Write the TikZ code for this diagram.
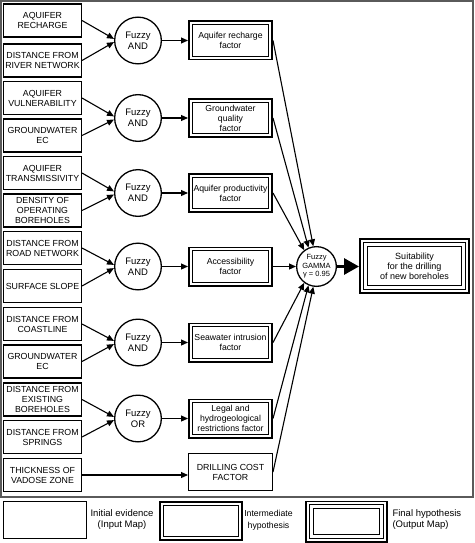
\documentclass[tikz,border=0pt]{standalone}
\usepackage{fontspec}
\setmainfont{Liberation Sans}
\usetikzlibrary{arrows.meta}
\definecolor{framegray}{RGB}{90,90,90}
\begin{document}
\begin{tikzpicture}[x=1pt,y=-1pt,
  inbox/.style={draw, line width=1.3pt, minimum width=77.7pt, minimum height=33.2pt, inner sep=1pt, align=center, font=\fontsize{8.8}{10}\selectfont},
  fuzzy/.style={draw, circle, line width=1.3pt, minimum size=46.7pt, inner sep=0pt, align=center, font=\fontsize{9.5}{11}\selectfont},
  gammanode/.style={draw, circle, line width=1.3pt, minimum size=39.7pt, inner sep=0pt, align=center, font=\fontsize{7.5}{8.5}\selectfont},
  midbox/.style={draw, line width=1.7pt, minimum width=83.3pt, minimum height=38.3pt, inner sep=1pt, align=center, font=\fontsize{8.7}{10}\selectfont,
    path picture={\draw[line width=1pt] ([shift={(3.2pt,-3.2pt)}]path picture bounding box.north west) rectangle ([shift={(-3.2pt,3.2pt)}]path picture bounding box.south east);}},
  outbox/.style={draw, line width=1.7pt, inner sep=1pt, align=center, font=\fontsize{9}{10}\selectfont,
    path picture={\draw[line width=1pt] ([shift={(3.6pt,-3.6pt)}]path picture bounding box.north west) rectangle ([shift={(-3.6pt,3.6pt)}]path picture bounding box.south east);
      \draw[line width=1.2pt] ([shift={(7.4pt,-7.4pt)}]path picture bounding box.north west) rectangle ([shift={(-7.4pt,7.4pt)}]path picture bounding box.south east);}},
  legtext/.style={align=center, font=\fontsize{9.5}{11}\selectfont},
  arr/.style={line width=1.1pt, -{Triangle[length=7pt,width=6pt]}},
  bigarr/.style={line width=3pt, -{Triangle[length=15pt,width=16pt]}},
  frame/.style={draw=framegray, line width=2pt}
]
\useasboundingbox (0,0) rectangle (474,543);
\draw[frame] (1,1) rectangle (472.5,496.5);

% input maps
\node[inbox] (i1)  at (42.5,20.5)  {AQUIFER\\RECHARGE};
\node[inbox] (i2)  at (42.5,60.5)  {DISTANCE FROM\\RIVER NETWORK};
\node[inbox] (i3)  at (42.5,98)    {AQUIFER\\VULNERABILITY};
\node[inbox] (i4)  at (42.5,135.5) {GROUNDWATER\\EC};
\node[inbox] (i5)  at (42.5,173)   {AQUIFER\\TRANSMISSIVITY};
\node[inbox] (i6)  at (42.5,210.5) {DENSITY OF\\OPERATING\\BOREHOLES};
\node[inbox] (i7)  at (42.5,248)   {DISTANCE FROM\\ROAD NETWORK};
\node[inbox] (i8)  at (42.5,286)   {SURFACE SLOPE};
\node[inbox] (i9)  at (42.5,324)   {DISTANCE FROM\\COASTLINE};
\node[inbox] (i10) at (42.5,361.5) {GROUNDWATER\\EC};
\node[inbox] (i11) at (42.5,399.5) {DISTANCE FROM\\EXISTING\\BOREHOLES};
\node[inbox] (i12) at (42.5,437)   {DISTANCE FROM\\SPRINGS};
\node[inbox] (i13) at (42.5,475)   {THICKNESS OF\\VADOSE ZONE};

% fuzzy operators
\node[fuzzy] (c1) at (138,40.5)  {Fuzzy\\AND};
\node[fuzzy] (c2) at (138,118)   {Fuzzy\\AND};
\node[fuzzy] (c3) at (138,193)   {Fuzzy\\AND};
\node[fuzzy] (c4) at (138,266.5) {Fuzzy\\AND};
\node[fuzzy] (c5) at (138,342.5) {Fuzzy\\AND};
\node[fuzzy] (c6) at (138,418.5) {Fuzzy\\OR};

% intermediate hypotheses
\node[midbox] (b1) at (230.5,40.5)  {Aquifer recharge\\factor};
\node[midbox] (b2) at (230.5,118)   {Groundwater\\quality\\factor};
\node[midbox] (b3) at (230.5,193)   {Aquifer productivity\\factor};
\node[midbox] (b4) at (230.5,266.5) {Accessibility\\factor};
\node[midbox] (b5) at (230.5,342.5) {Seawater intrusion\\factor};
\node[midbox] (b6) at (230.5,418.5) {Legal and\\hydrogeological\\restrictions factor};
\node[inbox, minimum width=83.7pt, minimum height=36.7pt] (b7) at (230.5,472) {DRILLING COST\\FACTOR};

% gamma and final
\node[gammanode] (g) at (316.5,266.5) {Fuzzy\\GAMMA\\γ = 0.95};
\node[outbox, minimum width=109.3pt, minimum height=54.3pt] (f) at (414.5,266) {Suitability\\for the drilling\\of new boreholes};

% input -> fuzzy
\foreach \a/\b/\c in {i1/i2/c1, i3/i4/c2, i5/i6/c3, i7/i8/c4, i9/i10/c5, i11/i12/c6}{
  \draw[arr] (\a.east) -- ([yshift=1.6pt]\c.west);
  \draw[arr] (\b.east) -- ([yshift=-1.6pt]\c.west);
}
% fuzzy -> intermediate
\foreach \c/\b in {c1/b1, c2/b2, c3/b3, c4/b4, c5/b5, c6/b6}{
  \draw[arr] (\c.east) -- (\c.east -| \b.west);
}
\draw[arr] (i13.east) -- (i13.east -| b7.west);

% intermediate -> gamma
\draw[arr] (b1.east) -- (g.99);
\draw[arr] (b2.east) -- (g.113);
\draw[arr] (b3.east) -- (g.127);
\draw[arr] (b4.east) -- (g.west);
\draw[arr] (b5.east) -- (g.233);
\draw[arr] (b6.east) -- (g.247);
\draw[arr] (b7.east) -- (g.261);

% gamma -> final
\draw[bigarr] (g.east) -- (g.east -| f.west);

% legend
\node[inbox, minimum width=82.7pt, minimum height=36.7pt] (l1) at (45,520) {};
\node[legtext] (t1) at (122,520) {Initial evidence\\(Input Map)};
\node[midbox, minimum width=82.3pt, minimum height=38.3pt] (l2) at (201,521) {};
\node[legtext, font=\fontsize{8.7}{12}\selectfont] (t2) at (268.5,520.5) {Intermediate\\hypothesis};
\node[outbox, minimum width=81.3pt, minimum height=40.3pt] (l3) at (346.5,521.5) {};
\node[legtext, align=left, anchor=west] (t3) at (389,520) {Final hypothesis\\(Output Map)};
\end{tikzpicture}
\end{document}
